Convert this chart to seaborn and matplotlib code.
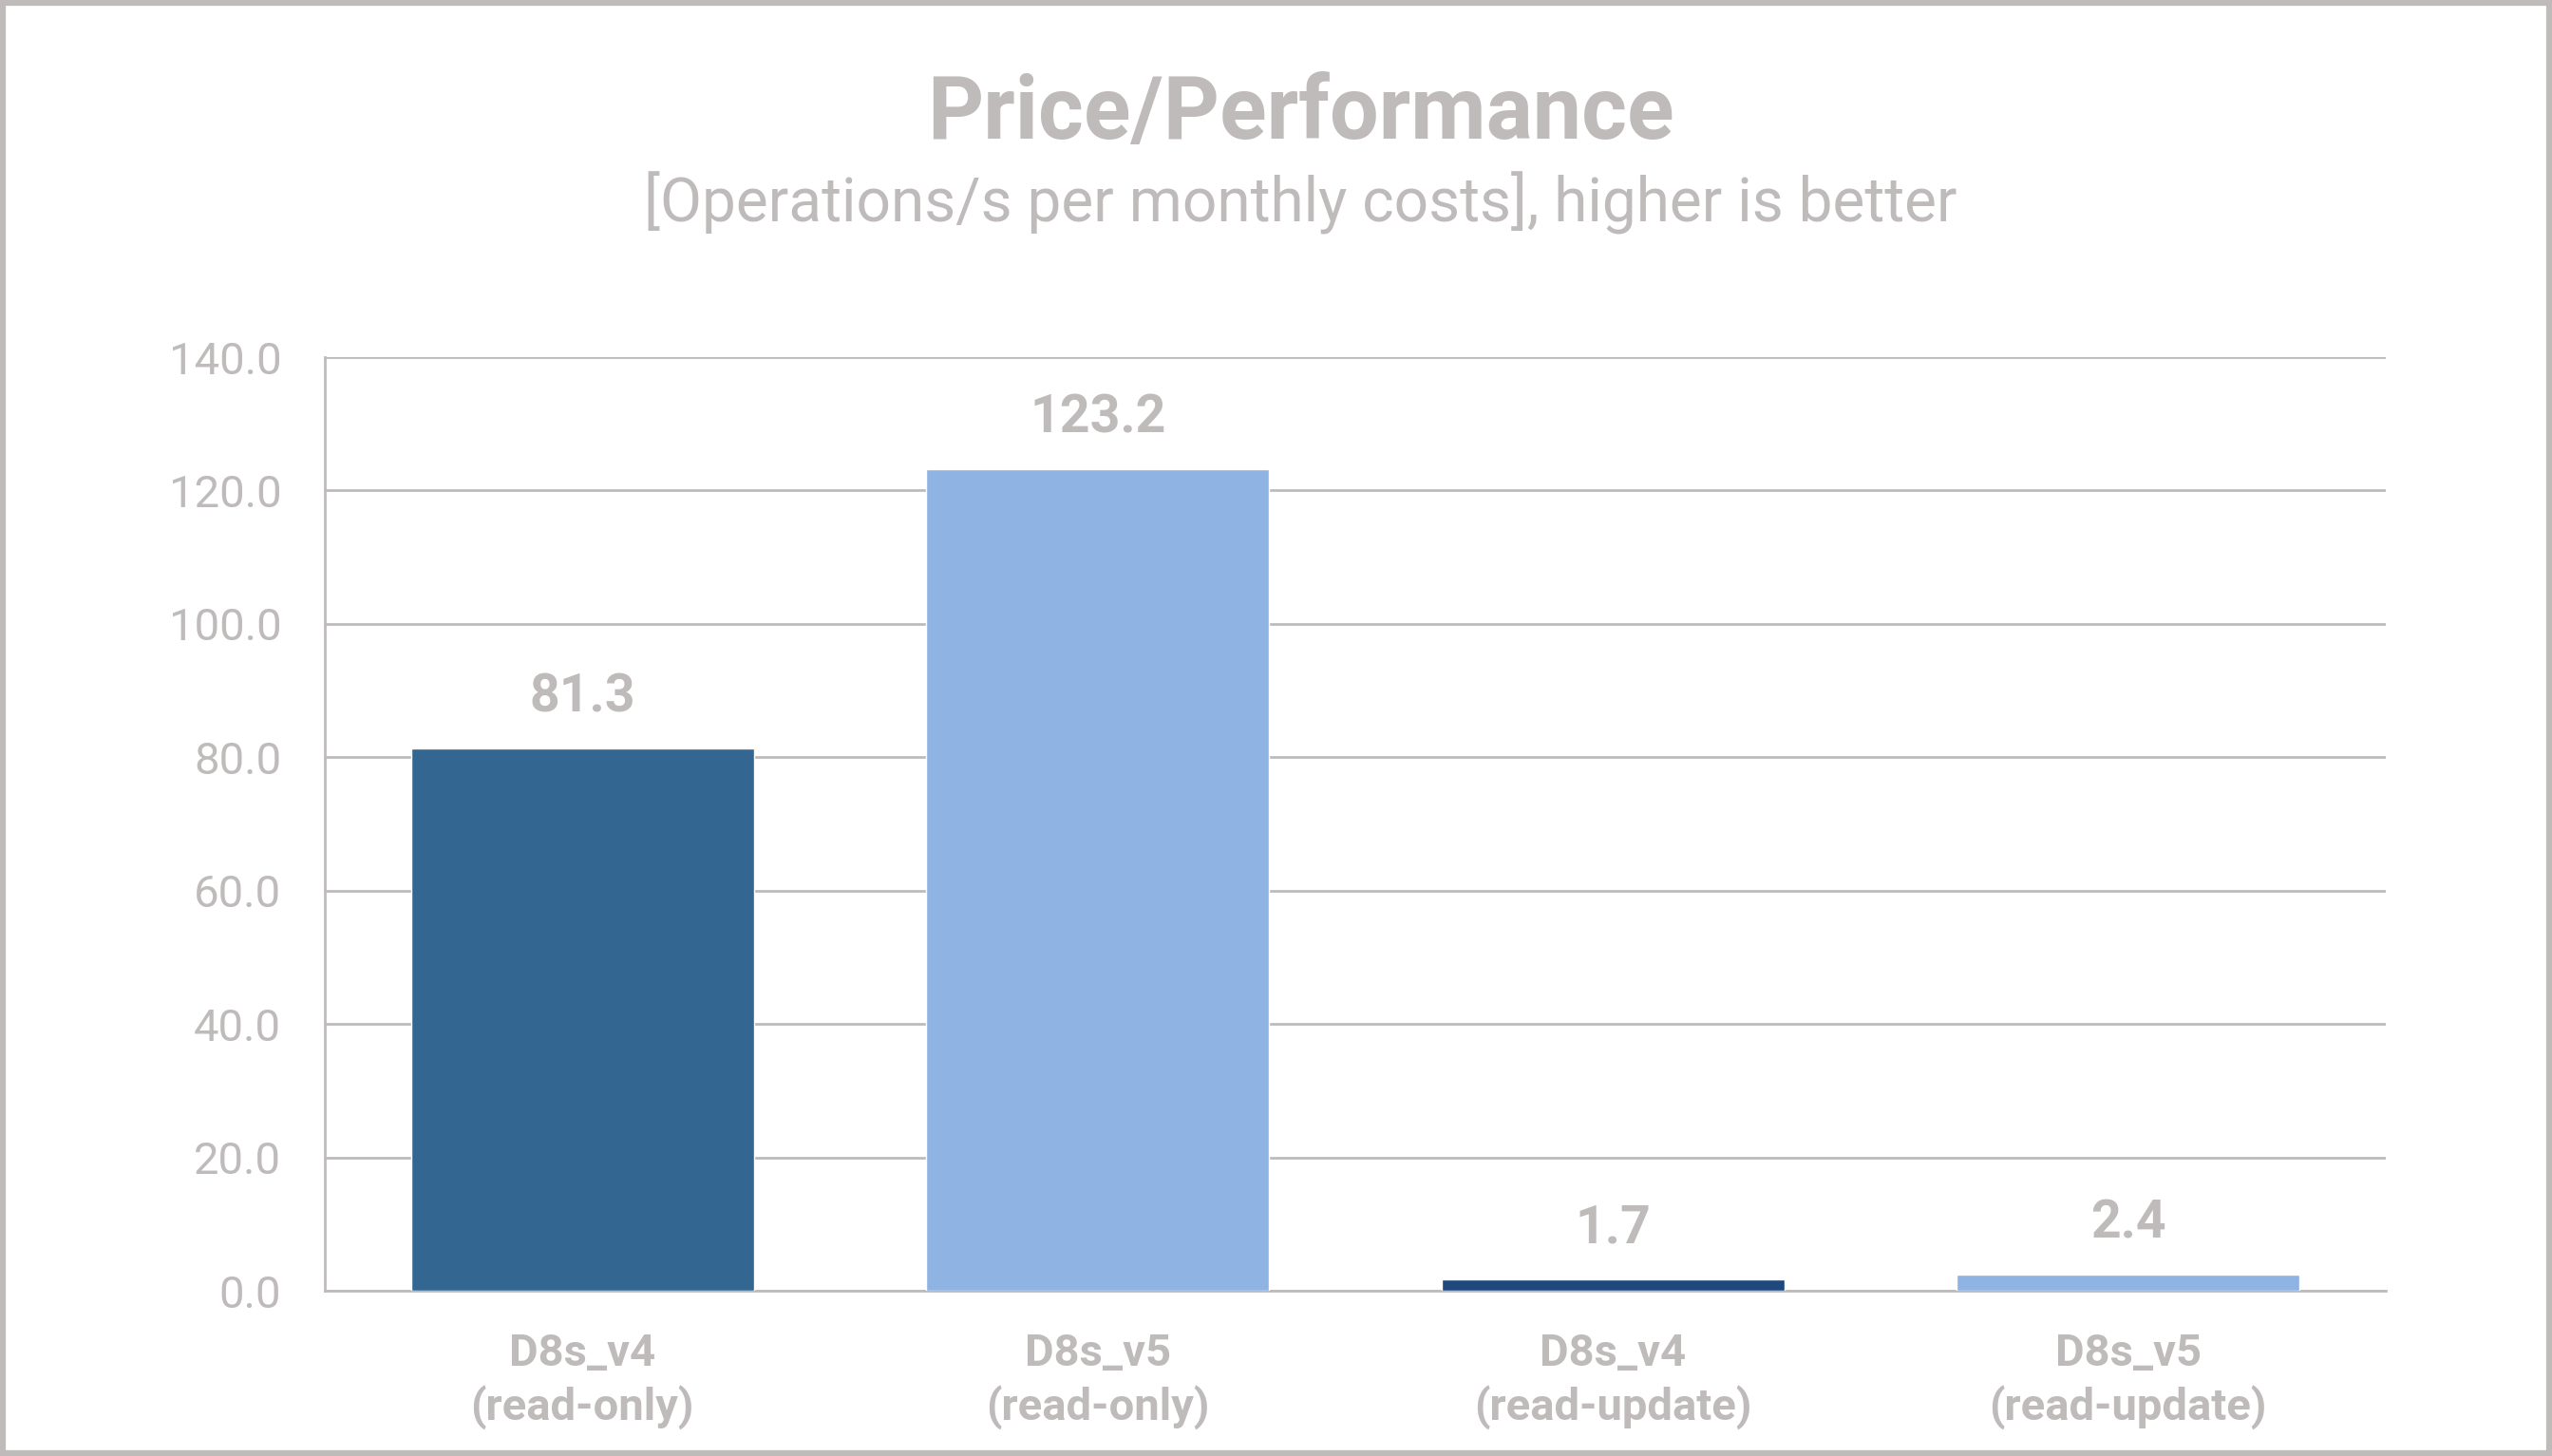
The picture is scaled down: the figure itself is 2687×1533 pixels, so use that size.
import matplotlib
matplotlib.use("Agg")
import matplotlib.pyplot as plt
import seaborn as sns
import pandas as pd
from matplotlib.patches import Rectangle
from matplotlib.ticker import FormatStrFormatter

# chart data
categories = ["D8s_v4\n(read-only)", "D8s_v5\n(read-only)", "D8s_v4\n(read-update)", "D8s_v5\n(read-update)"]
values = [81.3, 123.2, 1.7, 2.4]
bar_colors = ["#336791", "#8FB3E2", "#1F497D", "#8FB3E2"]

title = "Price/Performance"
subtitle = "[Operations/s per monthly costs], higher is better"

grey = "#BFBBBB"

sns.set_theme(style="white")
plt.rcParams["font.family"] = ["Roboto", "DejaVu Sans"]

df = pd.DataFrame({"config": categories, "value": values})

fig = plt.figure(figsize=(26.87, 15.33), dpi=100)
ax = fig.add_axes([0.1273, 0.1135, 0.8076, 0.6412])

sns.barplot(data=df, x="config", y="value", hue="config", palette=bar_colors,
            legend=False, width=0.665, saturation=1, ax=ax, zorder=3)

ax.set_ylim(0, 140)
ax.set_yticks(range(0, 141, 20))
ax.yaxis.set_major_formatter(FormatStrFormatter("%.1f"))
ax.set_xlabel("")
ax.set_ylabel("")

ax.grid(axis="y", color=grey, linewidth=2, zorder=0)
ax.grid(axis="x", visible=False)
for side in ["top", "right"]:
    ax.spines[side].set_visible(False)
for side in ["left", "bottom"]:
    ax.spines[side].set_color(grey)
    ax.spines[side].set_linewidth(2)

ax.tick_params(axis="y", length=0, pad=33, labelsize=34, labelcolor=grey)
ax.tick_params(axis="x", length=0, pad=32, labelsize=34, labelcolor=grey)
for lbl in ax.get_xticklabels():
    lbl.set_fontweight("bold")
    lbl.set_linespacing(1.28)

for cont in ax.containers:
    ax.bar_label(cont, fmt="%.1f", padding=20, fontsize=40, fontweight="bold", color=grey)

fig.text(0.5095, 1 - 121 / 1533, title, ha="center", va="center", fontsize=66,
         fontweight="bold", color=grey)
fig.text(0.5095, 1 - 214 / 1533, subtitle, ha="center", va="center", fontsize=46, color=grey)

# outer frame
fig.patches.append(Rectangle((0.0011, 0.002), 0.9978, 0.996, transform=fig.transFigure,
                             fill=False, edgecolor=grey, linewidth=4.5))

fig.savefig("out.png", dpi=100)
